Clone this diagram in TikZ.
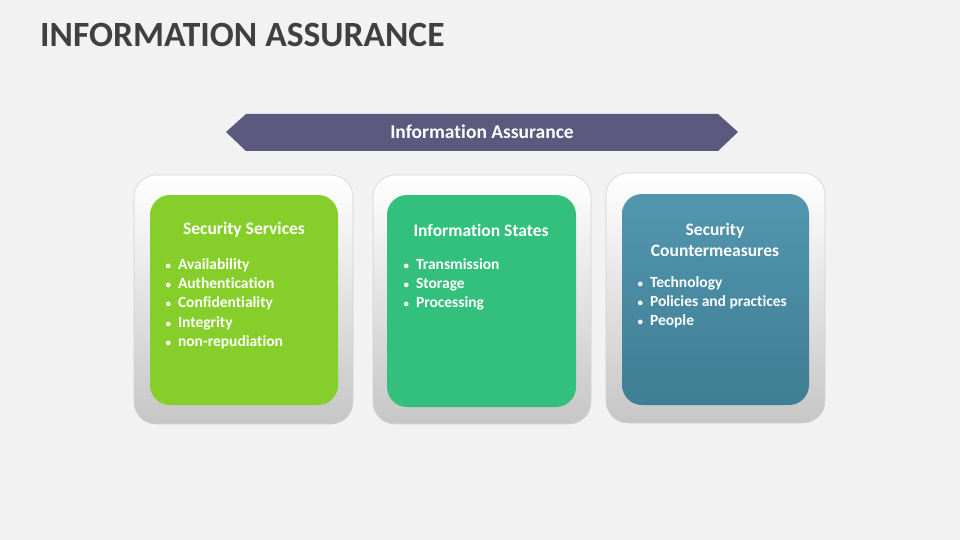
\documentclass[tikz,border=0pt]{standalone}
\usepackage{fontspec}
\setmainfont{Carlito}[Ligatures=NoCommon]
\newcommand{\bul}{{\fontsize{11}{11}\selectfont\textbullet}\ \ }
\begin{document}
\begin{tikzpicture}[x=1pt,y=-1pt,
  frame/.style={rounded corners=22pt,top color=white,bottom color=gray!45,draw=gray!35,line width=0.6pt},
  card/.style={rounded corners=20pt,draw=none},
  head/.style={text=white,font=\bfseries\fontsize{17.5}{21}\selectfont,align=center},
  lst/.style={text=white,font=\bfseries\fontsize{15.5}{19.2}\selectfont,align=left,anchor=north west}]
\definecolor{bg}{HTML}{F2F2F2}
\definecolor{ban}{HTML}{5B5A7E}
\definecolor{gA}{HTML}{86CF2A}
\definecolor{gB}{HTML}{33BF7C}
\definecolor{bT}{HTML}{5296AE}
\definecolor{bB}{HTML}{3F7E93}
\fill[bg] (0,0) rectangle (960,540);
\useasboundingbox (0,0) rectangle (960,540);
\node[anchor=west,inner sep=0pt,text=black!75,font=\bfseries\fontsize{35.5}{40}\selectfont] (title) at (40,35) {INFORMATION ASSURANCE};
\fill[ban] (226,132) -- (246,114) -- (718,114) -- (738,132) -- (718,151) -- (246,151) -- cycle;
\node[text=white,font=\bfseries\fontsize{19.5}{22}\selectfont] (bt) at (482,132) {Information Assurance};
\draw[frame] (134,175) rectangle (353,424);
\draw[frame] (373,175) rectangle (591,424);
\draw[frame] (606,173) rectangle (825,423);
\fill[card,gA] (150,195) rectangle (338,405);
\fill[card,gB] (387,195) rectangle (576,407);
\shade[card,top color=bT,bottom color=bB] (622,194) rectangle (809,405);
\node[head] (h1) at (244,230) {Security Services};
\node[head] (h2) at (481,230) {Information States};
\node[head] (h3) at (715,240) {Security\\Countermeasures};
\node[lst] (l1) at (162,255) {\bul Availability\\\bul Authentication\\\bul Confidentiality\\\bul Integrity\\\bul non-repudiation};
\node[lst] (l2) at (400,255) {\bul Transmission\\\bul Storage\\\bul Processing};
\node[lst] (l3) at (634,273) {\bul Technology\\\bul Policies and practices\\\bul People};
\end{tikzpicture}
\end{document}
